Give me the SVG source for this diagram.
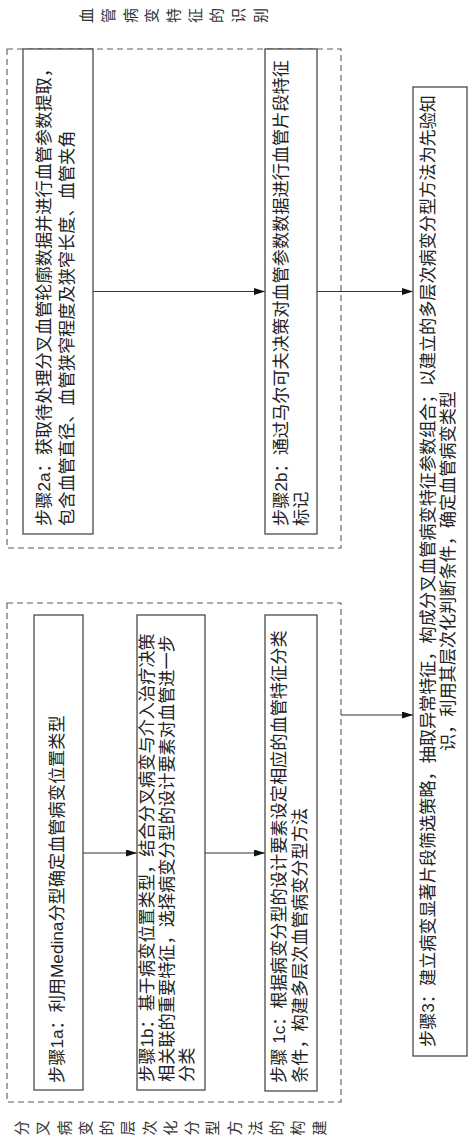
<svg xmlns="http://www.w3.org/2000/svg" width="474" height="1140" viewBox="0 0 474 1140">
<style>
.bg{fill:#ffffff}
.box{fill:#ffffff;stroke:#4a4a4a;stroke-width:1.3}
.dash{fill:none;stroke:#5a5a5a;stroke-width:1.1;stroke-dasharray:6 4}
.conn{fill:none;stroke:#333333;stroke-width:1.1}
.t{font-family:"Liberation Sans","Noto Sans CJK SC",sans-serif;font-size:17.2px;fill:#222222}
.title{font-family:"Noto Sans CJK SC",sans-serif;font-size:15px;fill:#333333}
</style>
<defs>
<marker id="arr" markerUnits="userSpaceOnUse" markerWidth="11" markerHeight="7" refX="11" refY="3.5" orient="auto">
<path d="M0,0 L11,3.5 L0,7 z" fill="#111111"/>
</marker>
</defs>
<rect class="bg" x="0" y="0" width="474" height="1140"/>

<g id="title-top">
<text class="title" transform="rotate(-90)" x="-23 -23 -23 -23 -23 -23 -23 -23 -23" y="92.2 113.9 135.6 157.3 179 200.7 222.4 244.1 265.8">血管病变特征的识别</text>
</g>
<g id="title-bottom">
<text class="title" transform="rotate(-90)" x="-1135.5 -1135.5 -1135.5 -1135.5 -1135.5 -1135.5 -1135.5 -1135.5 -1135.5 -1135.5 -1135.5 -1135.5 -1135.5 -1135.5 -1135.5" y="27.2 48.45 69.7 90.95 112.2 133.45 154.7 175.95 197.2 218.45 239.7 260.95 282.2 303.45 324.7">分叉病变的层次化分型方法的构建</text>
</g>

<g id="group-2">
<rect class="dash" x="7" y="49" width="334" height="499"/>
</g>
<g id="group-1">
<rect class="dash" x="7" y="603" width="334" height="499"/>
</g>

<g id="connectors">
<line class="conn" x1="93" y1="291.5" x2="265" y2="291.5" marker-end="url(#arr)"/>
<line class="conn" x1="317" y1="291.5" x2="413" y2="291.5" marker-end="url(#arr)"/>
<line class="conn" x1="83" y1="853" x2="137" y2="853" marker-end="url(#arr)"/>
<line class="conn" x1="205" y1="853" x2="265" y2="853" marker-end="url(#arr)"/>
<line class="conn" x1="341" y1="715" x2="413" y2="715" marker-end="url(#arr)"/>
</g>

<g id="node-2a">
<rect class="box" x="23" y="49" width="70" height="485"/>
<g transform="rotate(-90)">
<text class="t" x="-526" y="50">步骤2a：获取待处理分叉血管轮廓数据并进行血管参数提取，</text>
<text class="t" x="-526" y="73">包含血管直径、血管狭窄程度及狭窄长度、血管夹角</text>
</g>
</g>

<g id="node-2b">
<rect class="box" x="265" y="49" width="52" height="485"/>
<g transform="rotate(-90)">
<text class="t" x="-526" y="287">步骤2b：通过马尔可夫决策对血管参数数据进行血管片段特征</text>
<text class="t" x="-526" y="307">标记</text>
</g>
</g>

<g id="node-3">
<rect class="box" x="413" y="87" width="54" height="969"/>
<g transform="rotate(-90)">
<text class="t" x="-571" y="434" text-anchor="middle" textLength="952" lengthAdjust="spacing">步骤3：建立病变显著片段筛选策略，抽取异常特征，构成分叉血管病变特征参数组合；以建立的多层次病变分型方法为先验知</text>
<text class="t" x="-571" y="454" text-anchor="middle" textLength="360" lengthAdjust="spacing">识，利用其层次化判断条件，确定血管病变类型</text>
</g>
</g>

<g id="node-1a">
<rect class="box" x="34" y="615" width="49" height="475"/>
<g transform="rotate(-90)">
<text class="t" x="-1083" y="63">步骤1a：利用Medina分型确定血管病变位置类型</text>
</g>
</g>

<g id="node-1b">
<rect class="box" x="137" y="615" width="68" height="475"/>
<g transform="rotate(-90)">
<text class="t" x="-1082" y="153">步骤1b：基于病变位置类型，结合分叉病变与介入治疗决策</text>
<text class="t" x="-1082" y="173">相关联的重要特征，选择病变分型的设计要素对血管进一步</text>
<text class="t" x="-1082" y="193">分类</text>
</g>
</g>

<g id="node-1c">
<rect class="box" x="265" y="615" width="52" height="476"/>
<g transform="rotate(-90)">
<text class="t" x="-1083" y="285">步骤 1c：根据病变分型的设计要素设定相应的血管特征分类</text>
<text class="t" x="-1083" y="306">条件，构建多层次血管病变分型方法</text>
</g>
</g>
</svg>
